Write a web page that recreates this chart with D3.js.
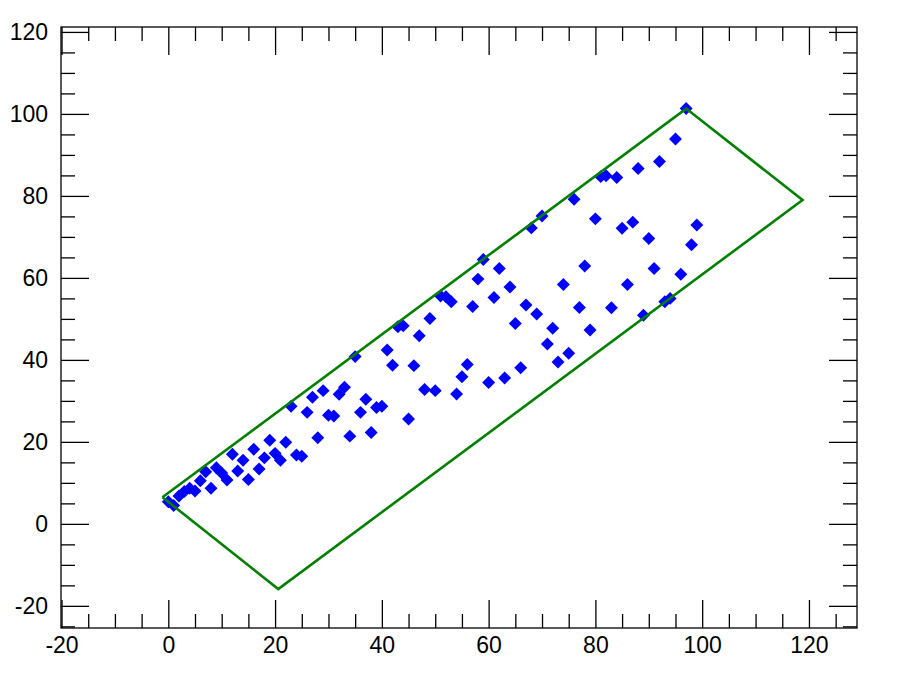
<!DOCTYPE html>
<html><head><meta charset="utf-8">
<script src="https://cdn.jsdelivr.net/npm/d3@7"></script>
<style>body{margin:0;background:#fff} svg{display:block}</style>
</head><body>
<svg id="chart" width="900" height="675"></svg>
<script>
const xValues = [0,1,2,3,4,5,6,7,8,9,10,11,12,13,14,15,16,17,18,19,20,21,22,23,24,25,26,27,28,29,30,31,32,33,34,35,36,37,38,39,40,41,42,43,44,45,46,47,48,49,50,51,52,53,54,55,56,57,58,59,60,61,62,63,64,65,66,67,68,69,70,71,72,73,74,75,76,77,78,79,80,81,82,83,84,85,86,87,88,89,90,91,92,93,94,95,96,97,98,99];
const yValues = [5.4,4.5,6.8,7.9,8.7,8.0,10.5,12.7,8.7,13.7,12.4,10.7,17.0,12.9,15.5,10.8,18.2,13.4,16.1,20.4,17.2,15.5,19.9,28.7,16.8,16.5,27.2,30.9,21.0,32.5,26.5,26.3,31.6,33.3,21.4,40.8,27.2,30.4,22.3,28.4,28.7,42.4,38.7,48.1,48.3,25.6,38.6,45.9,32.8,50.1,32.5,55.6,55.4,54.2,31.7,35.9,38.9,53.0,59.7,64.5,34.5,55.2,62.3,35.6,57.8,48.9,38.1,53.4,72.2,51.2,75.1,43.9,47.7,39.5,58.4,41.6,79.2,52.8,62.9,47.3,74.4,84.7,84.9,52.7,84.5,72.1,58.4,73.6,86.7,50.9,69.6,62.3,88.4,54.2,55.0,93.9,60.9,101.3,68.1,72.9];
const hullX = [-1.1, 97.0, 118.8, 20.6, -1.1];
const hullY = [6.5, 101.3, 79.0, -15.9, 6.5];
const xMajorTicks = [-20,0,20,40,60,80,100,120];
const yMajorTicks = [-20,0,20,40,60,80,100,120];
const xMinorTicks = [-15,-10,-5,5,10,15,25,30,35,45,50,55,65,70,75,85,90,95,105,110,115,125];
const yMinorTicks = [-25,-15,-10,-5,5,10,15,25,30,35,45,50,55,65,70,75,85,90,95,105,110,115];

const W = 900, H = 675;
const m = {left: 61, top: 27, right: 43, bottom: 47};
const svg = d3.select("#chart");
const x = d3.scaleLinear().domain([-20.1, 129]).range([m.left, W - m.right]);
const y = d3.scaleLinear().domain([-25.4, 121.2]).range([H - m.bottom, m.top]);

const font = "'Liberation Sans', Arial, Helvetica, sans-serif";
const sw = 1.3;
const fmt = d => String(d);

function styleAxis(g) {
  g.select(".domain").remove();
  g.selectAll("line").attr("stroke", "#000").attr("stroke-width", sw);
  g.selectAll("text").attr("fill", "#000").attr("font-family", font).attr("font-size", 23);
}

// bottom
svg.append("g").attr("transform", `translate(0,${H - m.bottom})`)
  .call(d3.axisBottom(x).tickValues(xMajorTicks).tickSizeInner(-28).tickSizeOuter(0).tickPadding(9).tickFormat(fmt))
  .call(styleAxis);
svg.append("g").attr("transform", `translate(0,${H - m.bottom})`)
  .call(d3.axisBottom(x).tickValues(xMinorTicks).tickSizeInner(-14).tickSizeOuter(0).tickFormat(""))
  .call(styleAxis);
// top
svg.append("g").attr("transform", `translate(0,${m.top})`)
  .call(d3.axisTop(x).tickValues(xMajorTicks).tickSizeInner(-28).tickSizeOuter(0).tickFormat(""))
  .call(styleAxis);
svg.append("g").attr("transform", `translate(0,${m.top})`)
  .call(d3.axisTop(x).tickValues(xMinorTicks).tickSizeInner(-14).tickSizeOuter(0).tickFormat(""))
  .call(styleAxis);
// left
svg.append("g").attr("transform", `translate(${m.left},0)`)
  .call(d3.axisLeft(y).tickValues(yMajorTicks).tickSizeInner(-28).tickSizeOuter(0).tickPadding(13).tickFormat(fmt))
  .call(styleAxis);
svg.append("g").attr("transform", `translate(${m.left},0)`)
  .call(d3.axisLeft(y).tickValues(yMinorTicks).tickSizeInner(-14).tickSizeOuter(0).tickFormat(""))
  .call(styleAxis);
// right
svg.append("g").attr("transform", `translate(${W - m.right},0)`)
  .call(d3.axisRight(y).tickValues(yMajorTicks).tickSizeInner(-28).tickSizeOuter(0).tickFormat(""))
  .call(styleAxis);
svg.append("g").attr("transform", `translate(${W - m.right},0)`)
  .call(d3.axisRight(y).tickValues(yMinorTicks).tickSizeInner(-14).tickSizeOuter(0).tickFormat(""))
  .call(styleAxis);

// frame
svg.append("rect")
  .attr("x", m.left).attr("y", m.top)
  .attr("width", W - m.left - m.right).attr("height", H - m.top - m.bottom)
  .attr("fill", "none").attr("stroke", "#000").attr("stroke-width", sw);

// points
const pts = xValues.map((v, i) => [v, yValues[i]]);
const sym = d3.symbol().type(d3.symbolSquare).size(84);
svg.append("g").selectAll("path").data(pts).join("path")
  .attr("d", sym)
  .attr("transform", d => `translate(${x(d[0])},${y(d[1])}) rotate(45)`)
  .attr("fill", "#0000ff");

// hull
const hull = hullX.map((v, i) => [v, hullY[i]]);
svg.append("path")
  .attr("d", d3.line().x(d => x(d[0])).y(d => y(d[1]))(hull))
  .attr("fill", "none").attr("stroke", "#007f00").attr("stroke-width", 2.6)
  .attr("stroke-linejoin", "miter");
</script>
</body></html>
